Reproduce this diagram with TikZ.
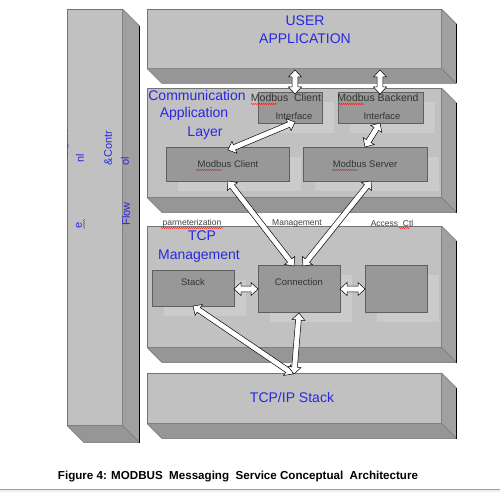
\documentclass[tikz,border=0pt]{standalone}
\usepackage{fontspec}
\setmainfont{Liberation Sans}
\usetikzlibrary{calc,decorations.pathmorphing,shadows}
\definecolor{face}{RGB}{193,193,193}
\definecolor{rightf}{RGB}{160,160,160}
\definecolor{bottomf}{RGB}{150,150,150}
\definecolor{edgec}{RGB}{115,115,115}
\definecolor{innerc}{RGB}{152,152,152}
\definecolor{iedge}{RGB}{95,95,95}
\definecolor{shadc}{RGB}{203,203,203}
\definecolor{bluec}{RGB}{40,40,225}
\definecolor{capline}{RGB}{150,160,172}
\definecolor{capfill}{RGB}{232,240,248}
\tikzset{
 box3d/.style={draw=edgec, fill=face, line width=0.5pt, anchor=north west, inner sep=0pt},
 ibox/.style={draw=iedge, fill=innerc, anchor=north west, inner sep=0pt, line width=0.5pt,
   drop shadow={shadow xshift=12pt, shadow yshift=-10pt, fill=shadc, opacity=1}},
 bluet/.style={text=bluec, font=\fontsize{14}{16}\selectfont, inner sep=0pt},
 vblue/.style={text=bluec, font=\fontsize{11}{13}\selectfont, inner sep=0pt, rotate=90},
 lbl/.style={text=black!80, font=\fontsize{9.5}{11}\selectfont, inner sep=0pt},
 small/.style={text=black!75, font=\fontsize{8.5}{10}\selectfont, inner sep=0pt},
 fatarr/.style={draw=black, fill=white, line width=0.5pt, line join=miter},
 squig/.style={red, line width=0.4pt, decorate, decoration={snake, amplitude=0.5pt, segment length=2pt}},
}
\newcommand\sides[2]{%
 \fill[rightf] (#1.north east) -- ++(#2,#2) -- ($(#1.south east)+(#2,#2)$) -- (#1.south east) -- cycle;
 \fill[bottomf] (#1.south west) -- (#1.south east) -- ($(#1.south east)+(#2,#2)$) -- ($(#1.south west)+(#2,#2)$) -- cycle;
 \draw[edgec, line width=0.5pt] (#1.north east) -- ++(#2,#2) (#1.south east) -- ++(#2,#2) (#1.south west) -- ++(#2,#2) -- ($(#1.south east)+(#2,#2)$);
 \draw[black, line width=0.9pt] ($(#1.north east)+(#2,#2)$) -- ($(#1.south east)+(#2,#2)$);
}
\def\aL{7pt}\def\aH{6.5pt}\def\aS{2.8pt}
\newcommand\fatarrow[2]{\draw[fatarr]
 (#1) -- ($(#1)!\aL!(#2)!\aH!90:(#2)$) -- ($(#1)!\aL!(#2)!\aS!90:(#2)$)
 -- ($(#2)!\aL!(#1)!\aS!-90:(#1)$) -- ($(#2)!\aL!(#1)!\aH!-90:(#1)$)
 -- (#2) -- ($(#2)!\aL!(#1)!\aH!90:(#1)$) -- ($(#2)!\aL!(#1)!\aS!90:(#1)$)
 -- ($(#1)!\aL!(#2)!\aS!-90:(#2)$) -- ($(#1)!\aL!(#2)!\aH!-90:(#2)$) -- cycle;}
\begin{document}
\begin{tikzpicture}[x=1pt,y=-1pt]
\useasboundingbox (0,0) rectangle (500,492);
\fill[white] (0,0) rectangle (500,492);
% left bar
\node[box3d, minimum width=55pt, minimum height=416pt] (lb) at (67,9) {};
\sides{lb}{17}
% right layers
\node[box3d, minimum width=294pt, minimum height=59pt] (ua) at (147,9) {};
\sides{ua}{15}
\node[box3d, minimum width=294pt, minimum height=109pt] (cal) at (147,88) {};
\sides{cal}{15}
\node[box3d, minimum width=294pt, minimum height=121pt] (tcpm) at (147,226) {};
\sides{tcpm}{15}
\node[box3d, minimum width=294pt, minimum height=50pt] (tcpip) at (147,373) {};
\sides{tcpip}{15}
% texts of layers
\node[bluet] (tua1) at (305,21) {USER};
\node[bluet] (tua2) at (305,39) {APPLICATION};
\node[bluet] (tc1) at (197,95) {Communication};
\node[bluet] (tc2) at (194,114) {Application};
\node[bluet] (tc3) at (205,133) {Layer};
\node[bluet] (tt1) at (202,236) {TCP};
\node[bluet] (tt2) at (199,256) {Management};
\node[bluet] (tip) at (292,397) {TCP/IP Stack};
% left bar texts
\begin{scope}
\clip (67,9) rectangle (122,425);
\node[vblue, font=\fontsize{5}{6}\selectfont] (tl0) at (67,145) {Management};
\end{scope}
\node[vblue] (tl1) at (80,158) {nl};
\node[vblue] (tl2) at (108,148) {\&Contr};
\node[vblue] (tl3) at (125,161) {ol};
\node[vblue] (tl4) at (126,214) {Flow};
\node[vblue] (tl5) at (79,225) {e};
\coordinate (rm1) at (84,219); \coordinate (rm2) at (84,229);
\draw[squig] (rm1) -- (rm2);
% inner boxes
\node[ibox, minimum width=64pt, minimum height=31pt] (mci) at (258,92) {};
\node[ibox, minimum width=85pt, minimum height=31pt] (mbi) at (338,92) {};
\node[ibox, minimum width=123pt, minimum height=34pt] (mc) at (166,147) {};
\node[ibox, minimum width=124pt, minimum height=34pt] (ms) at (303,147) {};
\node[ibox, minimum width=82pt, minimum height=36pt] (stk) at (152,270) {};
\node[ibox, minimum width=82pt, minimum height=47pt] (conn) at (258,265) {};
\node[ibox, minimum width=62pt, minimum height=47pt] (emp) at (365,265) {};
% inner labels
\node[lbl, font=\fontsize{10.5}{12}\selectfont] (lmci) at (286,98) {Modbus\ \ Client};
\node[lbl] (lmci2) at (294,116) {Interface};
\node[lbl, font=\fontsize{10.5}{12}\selectfont] (lmbi) at (378,98) {Modbus Backend};
\node[lbl] (lmbi2) at (382,116) {Interface};
\node[lbl] (lmc) at (228,164) {Modbus Client};
\node[lbl] (lms) at (365,164) {Modbus Server};
\node[lbl] (lstk) at (193,282) {Stack};
\node[lbl] (lconn) at (299,282) {Connection};
\node[small] (lpar) at (192,223) {parmeterization};
\node[small] (lman) at (297,223) {Management};
\node[small] (lacc) at (392,223) {Access\ \ Ctl};
% spelling marks
\draw[squig] (251,104) -- (277,104);
\draw[squig] (339,104) -- (364,104);
\draw[squig] (196,170) -- (222,170);
\draw[squig] (332,170) -- (358,170);
\draw[squig] (161,228) -- (223,228);
\draw[squig] (399,228) -- (410,228);
% arrow end points
\coordinate (a1s) at (295,70); \coordinate (a1e) at (295,94);
\coordinate (a2s) at (380,70); \coordinate (a2e) at (380,94);
\coordinate (a3s) at (295,122); \coordinate (a3e) at (228,150);
\coordinate (a4s) at (380,123); \coordinate (a4e) at (365,147);
\coordinate (a5s) at (228,181); \coordinate (a5e) at (294,266);
\coordinate (a6s) at (371,181); \coordinate (a6e) at (303,266);
\coordinate (a7s) at (234,289); \coordinate (a7e) at (258,289);
\coordinate (a8s) at (340,289); \coordinate (a8e) at (365,289);
\coordinate (a9s) at (193,306); \coordinate (a9e) at (293,374);
\coordinate (a10s) at (299,313); \coordinate (a10e) at (294,374);
\fatarrow{a1s}{a1e}
\fatarrow{a2s}{a2e}
\fatarrow{a3s}{a3e}
\fatarrow{a4s}{a4e}
\fatarrow{a5s}{a5e}
\fatarrow{a6s}{a6e}
\fatarrow{a7s}{a7e}
\fatarrow{a8s}{a8e}
\fatarrow{a9s}{a9e}
\fatarrow{a10s}{a10e}
% caption
\node[inner sep=0pt, font=\bfseries\fontsize{11.6}{13}\selectfont] (cap) at (238,477) {Figure 4: MODBUS\ \ Messaging\ \ Service Conceptual\ \ Architecture};
\fill[capfill] (0,489.5) rectangle (500,492);
\draw[capline, line width=0.8pt] (0,489) -- (500,489);
\end{tikzpicture}
\end{document}
